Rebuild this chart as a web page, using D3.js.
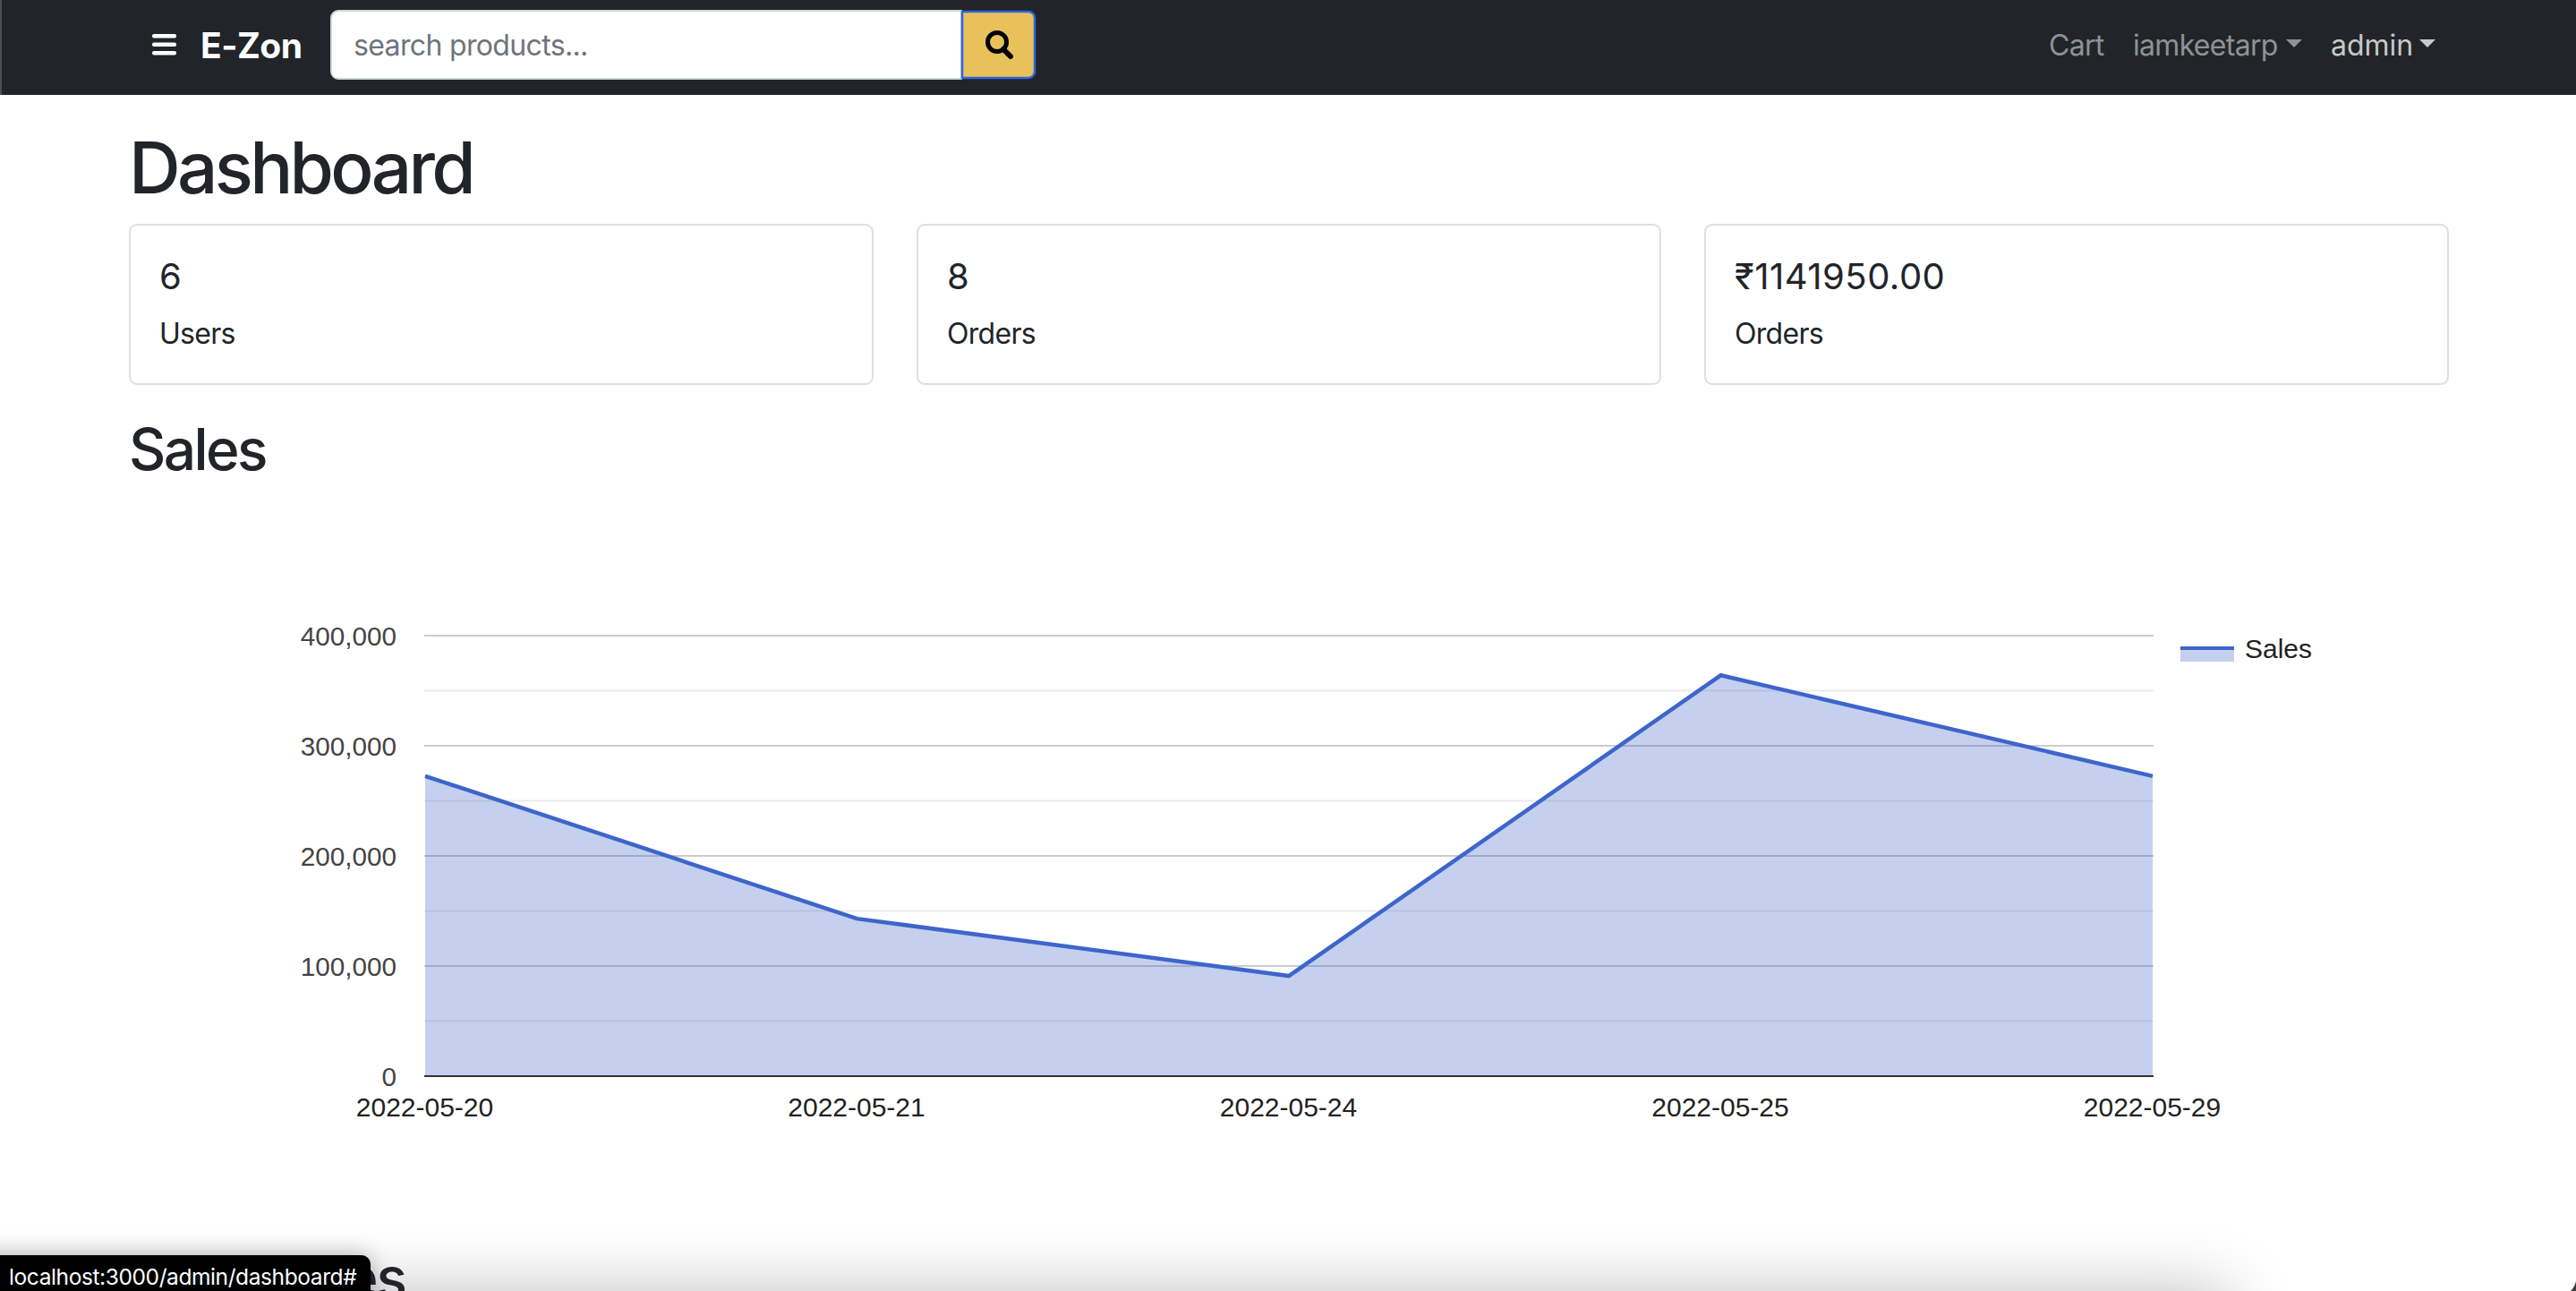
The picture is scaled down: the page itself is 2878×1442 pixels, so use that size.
<!DOCTYPE html>
<html>
<head>
<meta charset="utf-8">
<title>Dashboard</title>
<script src="https://cdn.jsdelivr.net/npm/d3@7"></script>
<style>
html,body{margin:0;padding:0;background:#fff;overflow:hidden}
svg{display:block}
text{font-family:Inter,"Noto Sans",sans-serif}
.chart text{font-family:"Liberation Sans",Arial,sans-serif}
</style>
</head>
<body>
<div id="root"></div>
<script>
// ---- chart data ----
const dates = ["2022-05-20","2022-05-21","2022-05-24","2022-05-25","2022-05-29"];
const sales = [272500,143000,91000,364000,272500];
const majorTicks = [0,100000,200000,300000,400000];
const minorTicks = [50000,150000,250000,350000];
const seriesName = "Sales";
// ---- page content ----
const cardValues = ["6","8","₹1141950.00"];
const cardLabels = ["Users","Orders","Orders"];
const cardX = [145,1025,1905];

const W = 2878, H = 1442;
const svg = d3.select("#root").append("svg").attr("width",W).attr("height",H).attr("viewBox",`0 0 ${W} ${H}`);

function txt(g,s,x,y,size,fill,weight,anchor,spacing){
  return g.append("text").attr("x",x).attr("y",y).attr("font-size",size).attr("fill",fill)
    .attr("font-weight",weight||400).attr("text-anchor",anchor||"start")
    .attr("letter-spacing",spacing||0).text(s);
}

// ---- bottom shadow ----
const defs = svg.append("defs");
defs.append("filter").attr("id","blur").attr("x","-20%").attr("y","-200%").attr("width","140%").attr("height","500%")
  .append("feGaussianBlur").attr("stdDeviation",38);
defs.append("filter").attr("id","blur2").attr("x","-20%").attr("y","-100%").attr("width","140%").attr("height","300%")
  .append("feGaussianBlur").attr("stdDeviation",12);
svg.append("rect").attr("x",-200).attr("y",1442).attr("width",2690).attr("height",200)
  .attr("fill","#000").attr("opacity",0.25).attr("filter","url(#blur)");

// ---- navbar ----
const nav = svg.append("g");
nav.append("rect").attr("width",W).attr("height",106).attr("fill","#212529");
nav.append("rect").attr("width",2).attr("height",106).attr("fill","#4b4e52");
[38,47.5,57].forEach(y=>nav.append("rect").attr("x",170).attr("y",y).attr("width",27).attr("height",4.5).attr("rx",2).attr("fill","#fff"));
txt(nav,"E-Zon",224,65,39,"#fff",700,"start",-0.5);
nav.append("path").attr("d","M378,12H1074V88H378a8,8 0 0 1 -8,-8V20a8,8 0 0 1 8,-8Z").attr("fill","#fff").attr("stroke","#ced4da").attr("stroke-width",2);
txt(nav,"search products...",395,62,32,"#6c757d",400,"start",-0.65);
nav.append("path").attr("d","M1075,13H1149a7,7 0 0 1 7,7V80a7,7 0 0 1 -7,7H1075Z").attr("fill","#e8c15a").attr("stroke","#2f66e0").attr("stroke-width",2.5);
nav.append("circle").attr("cx",1114).attr("cy",47).attr("r",10.5).attr("fill","none").attr("stroke","#000").attr("stroke-width",5);
nav.append("line").attr("x1",1121).attr("y1",55).attr("x2",1129).attr("y2",63).attr("stroke","#000").attr("stroke-width",6).attr("stroke-linecap","round");
txt(nav,"Cart",2289,62,32,"#909295",400,"start",-0.7);
txt(nav,"iamkeetarp",2383,62,32,"#909295",400,"start",-0.7);
nav.append("path").attr("d","M2554,44H2572L2563,53Z").attr("fill","#909295");
txt(nav,"admin",2604,62,32,"#c8c9ca");
nav.append("path").attr("d","M2703,44H2721L2712,53Z").attr("fill","#c8c9ca");

// ---- headings and cards ----
const page = svg.append("g");
txt(page,"Dashboard",144,216,80,"#212529",500,"start",-3.7);
txt(page,"Sales",144,525,64,"#212529",500,"start",-2.6);
cardX.forEach((x,i)=>{
  page.append("rect").attr("x",x).attr("y",251).attr("width",830).attr("height",178).attr("rx",8)
    .attr("fill","#fff").attr("stroke","#dfdfdf").attr("stroke-width",2);
  txt(page,cardValues[i],x+33,323,40,"#212529",400,"start",i===2?0.5:0);
  txt(page,cardLabels[i],x+33,384,32,"#212529",400,"start",-0.7);
});

// ---- chart ----
const chart = svg.append("g").attr("class","chart");
const x = d3.scalePoint().domain(dates).range([475,2405]);
const y = d3.scaleLinear().domain([0,400000]).range([1202,710]);
const fmt = d3.format(",");

const grid = chart.append("g");
grid.selectAll(".minor").data(minorTicks).join("line").attr("class","minor")
  .attr("x1",474).attr("x2",2406).attr("y1",y).attr("y2",y).attr("stroke","#ebebeb").attr("stroke-width",2);
grid.selectAll(".major").data(majorTicks.filter(d=>d>0)).join("line").attr("class","major")
  .attr("x1",474).attr("x2",2406).attr("y1",y).attr("y2",y).attr("stroke","#cccccc").attr("stroke-width",2);

const pts = dates.map((d,i)=>({d,v:sales[i]}));
chart.append("path").datum(pts).attr("fill","#3e62c6").attr("fill-opacity",0.3)
  .attr("d",d3.area().x(p=>x(p.d)).y0(y(0)).y1(p=>y(p.v)));
chart.append("path").datum(pts).attr("fill","none").attr("stroke","#3d65cb").attr("stroke-width",4.5)
  .attr("d",d3.line().x(p=>x(p.d)).y(p=>y(p.v)));
chart.append("line").attr("x1",474).attr("x2",2406).attr("y1",y(0)).attr("y2",y(0)).attr("stroke","#333333").attr("stroke-width",2);

const yAxis = chart.append("g").attr("transform","translate(443,0)")
  .call(d3.axisLeft(y).tickValues(majorTicks).tickFormat(fmt).tickSize(0).tickPadding(0));
yAxis.select(".domain").remove();
yAxis.selectAll("text").attr("font-size",29.7).attr("fill","#444444").attr("dy","0.36em");

const xAxis = chart.append("g").attr("transform","translate(-1,1247)")
  .call(d3.axisBottom(x).tickSize(0).tickPadding(0));
xAxis.select(".domain").remove();
xAxis.selectAll("text").attr("font-size",30).attr("fill","#222222").attr("dy",0);

chart.append("rect").attr("x",2436).attr("y",724).attr("width",60).attr("height",15).attr("fill","#3e62c6").attr("fill-opacity",0.3);
chart.append("rect").attr("x",2436).attr("y",722).attr("width",60).attr("height",4).attr("fill","#3d65cb");
txt(chart,seriesName,2508,735,30,"#222222");

// ---- bottom of the window ----
const bottom = svg.append("g");
txt(bottom,"es",453,1450,64,"#212529",500,"end",-2);
bottom.append("rect").attr("x",-40).attr("y",1402).attr("width",454).attr("height",80).attr("rx",10)
  .attr("fill","#000").attr("opacity",0.3).attr("filter","url(#blur2)");
bottom.append("path").attr("d","M0,1402H404a10,10 0 0 1 10,10V1442H0Z").attr("fill","#000");
txt(bottom,"localhost:3000/admin/dashboard#",10,1435,24.5,"#fff",400,"start",-0.4);
bottom.append("path").attr("d","M2878,1431A22,22 0 0 1 2872,1442H2878Z").attr("fill","#3a3f44");
</script>
</body>
</html>
